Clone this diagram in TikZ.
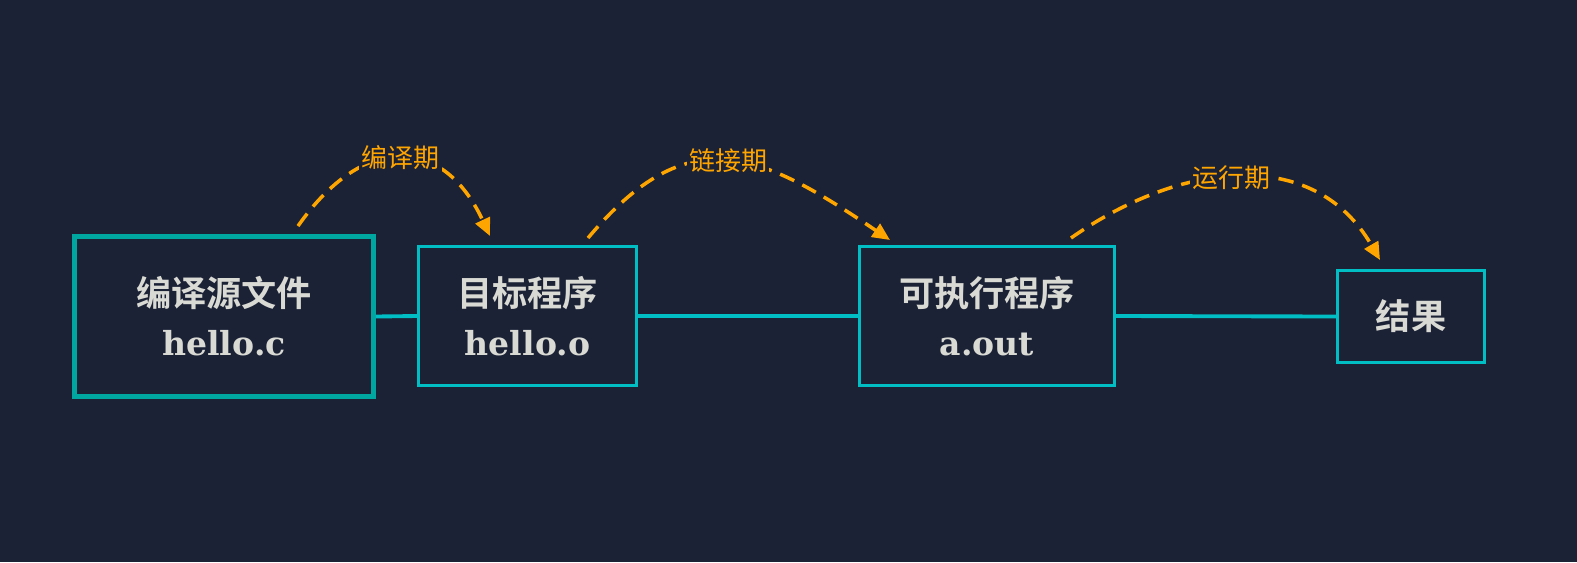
\documentclass[tikz,border=0pt]{standalone}
\usepackage{fontspec}
\setmainfont{DejaVu Serif}[BoldFont={DejaVu Serif Bold}]
\newfontfamily\cjk{Noto Sans CJK SC}[BoldFont={Noto Sans CJK SC Bold}]
\usetikzlibrary{positioning,calc,arrows.meta}

\definecolor{bgcol}{RGB}{27,34,54}
\definecolor{boxtext}{RGB}{218,218,212}
\definecolor{srcteal}{RGB}{0,166,160}
\definecolor{linkcyan}{RGB}{0,190,196}
\definecolor{phaseorange}{RGB}{255,165,0}

\begin{document}
\begin{tikzpicture}[
    stage/.style={rectangle, draw=linkcyan, line width=0.85pt, align=center, text=boxtext, inner sep=0pt},
    srcstage/.style={stage, draw=srcteal, line width=1.4pt},
    link/.style={draw=linkcyan, line width=1.1pt},
    phase/.style={draw=phaseorange, line width=1pt, dash pattern=on 4.4pt off 2.6pt, -{Triangle[length=5pt,width=4.4pt]}},
    phaselabel/.style={fill=bgcol, inner sep=0.6pt, text=phaseorange, font=\cjk\fontsize{7.4}{9}\selectfont}
]

% Background
\fill[bgcol] (0,0) rectangle (15.77,5.62);

% Define node positions
\node[srcstage, minimum width=2.99cm, minimum height=1.60cm] (src) at (2.24, 2.455)
    {{\cjk\bfseries\fontsize{10}{13}\selectfont 编译源文件}\\[2pt]{\bfseries\fontsize{9.4}{13}\selectfont hello.c}};
\node[stage, minimum width=2.18cm, minimum height=1.39cm] (obj) at (5.275, 2.46)
    {{\cjk\bfseries\fontsize{10}{13}\selectfont 目标程序}\\[2pt]{\bfseries\fontsize{9.4}{13}\selectfont hello.o}};
\node[stage, minimum width=2.55cm, minimum height=1.39cm] (exe) at (9.87, 2.46)
    {{\cjk\bfseries\fontsize{10}{13}\selectfont 可执行程序}\\[2pt]{\bfseries\fontsize{9.4}{13}\selectfont a.out\hspace{0.7em}}};
\node[stage, minimum width=1.47cm, minimum height=0.92cm] (res) at (14.11, 2.455)
    {{\cjk\bfseries\fontsize{10}{13}\selectfont 结果}};

% Solid links between stages
\draw[link] (src.east) -- (obj.west);
\draw[link] (obj.east) -- (exe.west);
\draw[link] (exe.east) -- (res.west);

% Dashed phase arcs
\draw[phase] ([xshift=0.74cm,yshift=0.08cm]src.north) to[out=55, in=115, looseness=1.5]
    node[phaselabel, pos=0.5] {编译期} ([xshift=-0.375cm,yshift=0.09cm]obj.north);
\draw[phase] ([xshift=0.605cm,yshift=0.07cm]obj.north) to[out=50, in=146, looseness=1.33]
    node[phaselabel, pos=0.5] {链接期} ([xshift=-0.97cm,yshift=0.05cm]exe.north);
\draw[phase] ([xshift=0.84cm,yshift=0.07cm]exe.north) to[out=35, in=120, looseness=1.1]
    node[phaselabel, pos=0.47] {运行期} ([xshift=-0.31cm,yshift=0.09cm]res.north);

\pgfresetboundingbox
\useasboundingbox (0,0) rectangle (15.77,5.62);
\end{tikzpicture}
\end{document}
